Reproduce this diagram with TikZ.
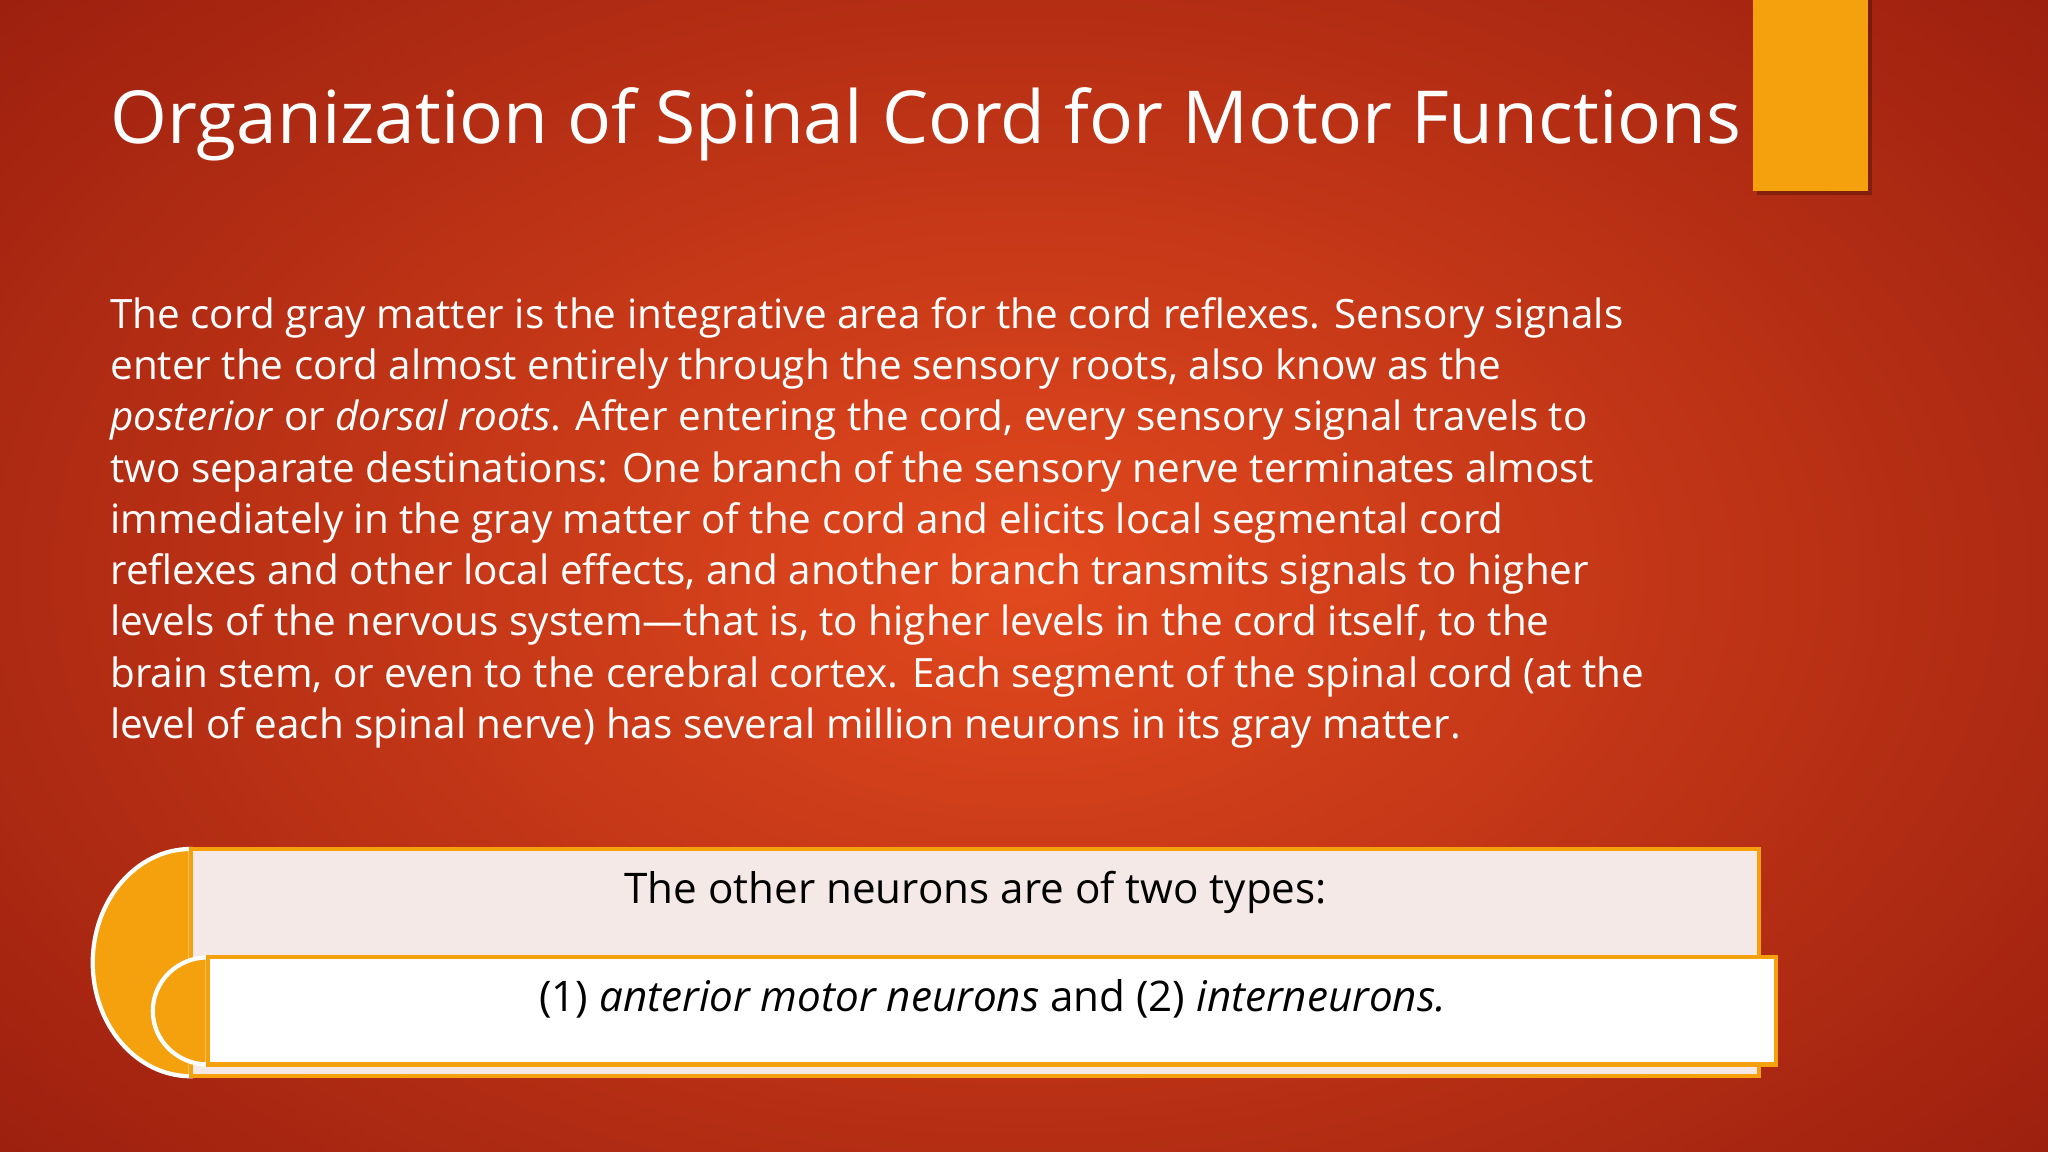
\documentclass[tikz,border=0pt]{standalone}
\usepackage{fontspec}
\setmainfont{Open Sans}
\usetikzlibrary{positioning}
\definecolor{slidered}{HTML}{9A1E0E}
\definecolor{slideorange}{HTML}{E2491E}
\definecolor{accent}{HTML}{F5A10D}
\definecolor{paleband}{HTML}{F4E9E6}
\tikzset{
  bodytext/.style={text=white, font=\fontsize{11.5}{14.6}\selectfont, align=left, anchor=north west, inner sep=0pt},
  bandtext/.style={font=\fontsize{12}{14.6}\selectfont, text=black},
  bandbox/.style={draw=accent, line width=1.2pt},
  capsule/.style={fill=accent, draw=white, line width=1.2pt}
}
\begin{document}
\begin{tikzpicture}[x=0.013061cm, y=-0.013061cm]
\useasboundingbox (0,0) rectangle (1568,882);
% background
\shade[inner color=slideorange, outer color=slidered] (-300,-250) rectangle (1868,1132);
\fill[black, opacity=0.25] (1345,0) rectangle (1433,149);
\fill[accent] (1342,0) rectangle (1430,146);
\node[text=white, font=\fontsize{20.8}{25}\selectfont, anchor=base west, inner sep=0pt] (title) at (84,110) {Organization of Spinal Cord for Motor Functions};
\node[bodytext] (body) at (84,227) {The cord gray matter is the integrative area for the cord reflexes. Sensory signals\\
enter the cord almost entirely through the sensory roots, also know as the\\
\textit{posterior} or \textit{dorsal roots}. After entering the cord, every sensory signal travels to\\
two separate destinations: One branch of the sensory nerve terminates almost\\
immediately in the gray matter of the cord and elicits local segmental cord\\
reflexes and other local effects, and another branch transmits signals to higher\\
levels of the nervous system---that is, to higher levels in the cord itself, to the\\
brain stem, or even to the cerebral cortex. Each segment of the spinal cord (at the\\
level of each spinal nerve) has several million neurons in its gray matter.};
% bottom bands
\draw[capsule] (146,650) arc[start angle=-90, end angle=-270, x radius=75, y radius=87] -- cycle;
\draw[bandbox, fill=paleband] (146,650) rectangle (1347,824);
\draw[capsule] (159,733) arc[start angle=-90, end angle=-270, x radius=42, y radius=41] -- cycle;
\draw[bandbox, fill=white] (159,733) rectangle (1360,815);
\node[bandtext] (types) at (747,683) {The other neurons are of two types:};
\node[bandtext] (kinds) at (760,765) {(1) \textit{anterior motor neurons} and (2) \textit{interneurons.}};
\end{tikzpicture}
\end{document}
